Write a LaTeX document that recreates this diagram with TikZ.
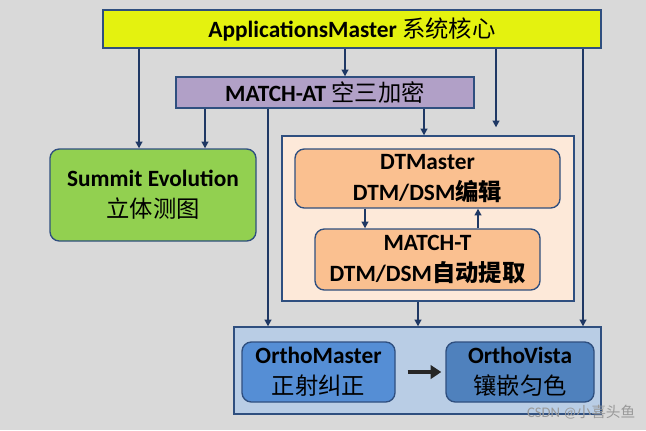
\documentclass[tikz,border=0pt]{standalone}
\usepackage{fontspec}
\setmainfont{Carlito}
\newfontfamily\cjk{Noto Sans CJK SC}
\usetikzlibrary{arrows.meta}
\definecolor{bgray}{HTML}{D9D9D9}
\definecolor{edge}{HTML}{2F4F7F}
\definecolor{arrowc}{HTML}{1F3864}
\definecolor{amfill}{HTML}{E4F20F}
\definecolor{atfill}{HTML}{B1A0C7}
\definecolor{sefill}{HTML}{92D050}
\definecolor{peach}{HTML}{FDE9D9}
\definecolor{orange}{HTML}{FAC090}
\definecolor{lblue}{HTML}{B9CDE5}
\definecolor{mblue}{HTML}{558ED5}
\definecolor{dblue}{HTML}{4F81BD}

\begin{document}
\begin{tikzpicture}[
		x=0.75pt, y=-0.75pt,
		font=\fontsize{17.5}{23}\selectfont\bfseries,
		box/.style={rectangle, draw=edge, line width=1pt, text centered, align=center, inner sep=0pt},
		rbox/.style={box, rounded corners=7pt},
		arrow/.style={-{Triangle[length=5pt,width=5pt]}, draw=arrowc, line width=2pt}
		]
		% 背景
		\fill[bgray] (0,0) rectangle (646,430);
		% 上方两个横条
		\node[box, fill=amfill, minimum width=373.5pt, minimum height=28.5pt] (apps) at (352,29) {ApplicationsMaster {\cjk\mdseries 系统核心}};
		\node[box, fill=atfill, minimum width=223.5pt, minimum height=23.25pt] (matchat) at (325,92.5) {MATCH-AT {\cjk\mdseries 空三加密}};
		% 左侧
		\node[rbox, fill=sefill, minimum width=154.5pt, minimum height=69pt] (summit) at (153,195) {Summit Evolution\\{\cjk\mdseries 立体测图}};
		% 中间框
		\node[box, fill=peach, minimum width=219pt, minimum height=123.75pt] (dtmgroup) at (428,218.5) {};
		\node[rbox, fill=orange, minimum width=198.75pt, minimum height=44.25pt] (dtmaster) at (427.5,178.5) {DTMaster\\DTM/DSM{\cjk 编辑}};
		\node[rbox, fill=orange, minimum width=168.75pt, minimum height=45.75pt] (matcht) at (427.5,259.5) {MATCH-T\\DTM/DSM{\cjk 自动提取}};
		% 下方框
		\node[box, fill=lblue, minimum width=275.25pt, minimum height=65.25pt] (orthogroup) at (417.5,370.5) {};
		\node[rbox, fill=mblue, minimum width=114.75pt, minimum height=45pt] (orthomaster) at (318.5,372) {OrthoMaster\\{\cjk\mdseries 正射纠正}};
		\node[rbox, fill=dblue, minimum width=111pt, minimum height=45pt] (orthovista) at (520,372) {OrthoVista\\{\cjk\mdseries 镶嵌匀色}};
		% 竖线位置
		\coordinate (c1) at (139,0);
		\coordinate (c2) at (345,0);
		\coordinate (c3) at (496,0);
		\coordinate (c4) at (583,0);
		\coordinate (c5) at (205,0);
		\coordinate (c6) at (268,0);
		\coordinate (c7) at (424,0);
		\coordinate (c8) at (418,0);
		\coordinate (c9) at (365,0);
		\coordinate (c10) at (478,0);
		% 连接箭头
		\draw[arrow] (apps.south -| c1) -- (summit.north -| c1);
		\draw[arrow] (apps.south -| c2) -- (matchat.north -| c2);
		\draw[arrow] (apps.south -| c3) -- ([yshift=6pt]dtmgroup.north -| c3);
		\draw[arrow] (apps.south -| c4) -- (orthogroup.north -| c4);
		\draw[arrow] (matchat.south -| c5) -- (summit.north -| c5);
		\draw[arrow] (matchat.south -| c6) -- (orthogroup.north -| c6);
		\draw[arrow] (matchat.south -| c7) -- (dtmgroup.north -| c7);
		\draw[arrow] (dtmgroup.south -| c8) -- (orthogroup.north -| c8);
		\draw[arrow] (dtmaster.south -| c9) -- (matcht.north -| c9);
		\draw[arrow] (matcht.north -| c10) -- (dtmaster.south -| c10);
		\draw[-{Triangle[length=8pt,width=10pt]}, line width=3.5pt, black!85] ([xshift=9pt]orthomaster.east) -- ([xshift=-3pt]orthovista.west);
		% 水印
		\node[font=\fontsize{11}{13}\selectfont, text=white!60!black, anchor=south east] (mark) at (640,424) {CSDN @{\cjk 小喜头鱼}};
	\end{tikzpicture}
\end{document}
